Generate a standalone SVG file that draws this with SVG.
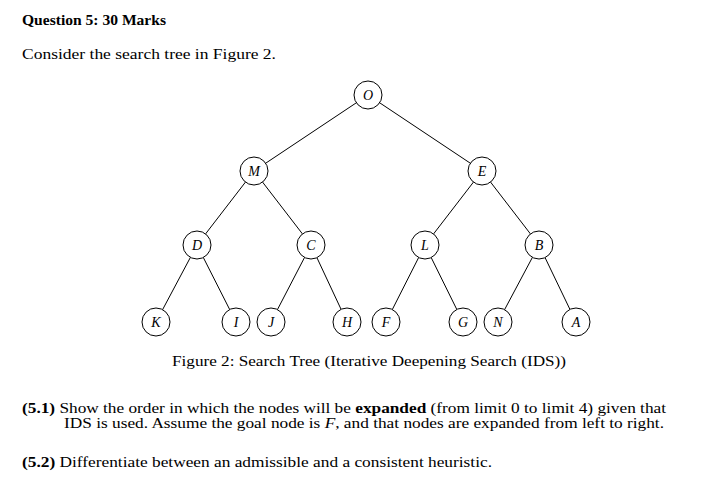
<svg xmlns="http://www.w3.org/2000/svg" width="726" height="487" viewBox="0 0 726 487">
<style>
text{font-family:"Liberation Serif",serif;fill:#000}
.n circle{fill:#fff;stroke:#000;stroke-width:1}
.n text{font-size:14px;text-anchor:middle;font-style:italic}
#edges line{stroke:#000;stroke-width:1}
.t{font-size:15px}
</style>
<rect width="726" height="487" fill="#fff"/>
<text x="22" y="25" class="t" font-weight="bold" textLength="144" lengthAdjust="spacingAndGlyphs">Question 5: 30 Marks</text>
<text x="22" y="59" class="t" textLength="254" lengthAdjust="spacingAndGlyphs">Consider the search tree in Figure 2.</text>
<g id="edges">
<line x1="368" y1="95" x2="254" y2="171"/><line x1="368" y1="95" x2="482" y2="171"/>
<line x1="254" y1="171" x2="197" y2="245"/><line x1="254" y1="171" x2="311" y2="245"/>
<line x1="482" y1="171" x2="425" y2="245"/><line x1="482" y1="171" x2="539" y2="245"/>
<line x1="197" y1="245" x2="156" y2="322"/><line x1="197" y1="245" x2="236" y2="322"/>
<line x1="311" y1="245" x2="271" y2="322"/><line x1="311" y1="245" x2="347" y2="322"/>
<line x1="425" y1="245" x2="386" y2="322"/><line x1="425" y1="245" x2="463" y2="322"/>
<line x1="539" y1="245" x2="498" y2="322"/><line x1="539" y1="245" x2="576" y2="322"/>
</g>
<g id="nO" class="n"><circle cx="368" cy="95" r="14"/><text x="368" y="100">O</text></g>
<g id="nM" class="n"><circle cx="254" cy="171" r="14"/><text x="254" y="176">M</text></g>
<g id="nE" class="n"><circle cx="482" cy="171" r="14"/><text x="482" y="176">E</text></g>
<g id="nD" class="n"><circle cx="197" cy="245" r="14"/><text x="197" y="250">D</text></g>
<g id="nC" class="n"><circle cx="311" cy="245" r="14"/><text x="311" y="250">C</text></g>
<g id="nL" class="n"><circle cx="425" cy="245" r="14"/><text x="425" y="250">L</text></g>
<g id="nB" class="n"><circle cx="539" cy="245" r="14"/><text x="539" y="250">B</text></g>
<g id="nK" class="n"><circle cx="156" cy="322" r="14"/><text x="156" y="327">K</text></g>
<g id="nI" class="n"><circle cx="236" cy="322" r="14"/><text x="236" y="327">I</text></g>
<g id="nJ" class="n"><circle cx="271" cy="322" r="14"/><text x="271" y="327">J</text></g>
<g id="nH" class="n"><circle cx="347" cy="322" r="14"/><text x="347" y="327">H</text></g>
<g id="nF" class="n"><circle cx="386" cy="322" r="14"/><text x="386" y="327">F</text></g>
<g id="nG" class="n"><circle cx="463" cy="322" r="14"/><text x="463" y="327">G</text></g>
<g id="nN" class="n"><circle cx="498" cy="322" r="14"/><text x="498" y="327">N</text></g>
<g id="nA" class="n"><circle cx="576" cy="322" r="14"/><text x="576" y="327">A</text></g>
<text x="172" y="366" class="t" textLength="394" lengthAdjust="spacingAndGlyphs">Figure 2: Search Tree (Iterative Deepening Search (IDS))</text>
<text x="22" y="413" class="t" textLength="644" lengthAdjust="spacingAndGlyphs"><tspan font-weight="bold">(5.1)</tspan> Show the order in which the nodes will be <tspan font-weight="bold">expanded</tspan> (from limit 0 to limit 4) given that</text>
<text x="64" y="428" class="t" textLength="600" lengthAdjust="spacingAndGlyphs">IDS is used. Assume the goal node is <tspan font-style="italic">F</tspan>, and that nodes are expanded from left to right.</text>
<text x="22" y="467" class="t" textLength="470" lengthAdjust="spacingAndGlyphs"><tspan font-weight="bold">(5.2)</tspan> Differentiate between an admissible and a consistent heuristic.</text>
</svg>
